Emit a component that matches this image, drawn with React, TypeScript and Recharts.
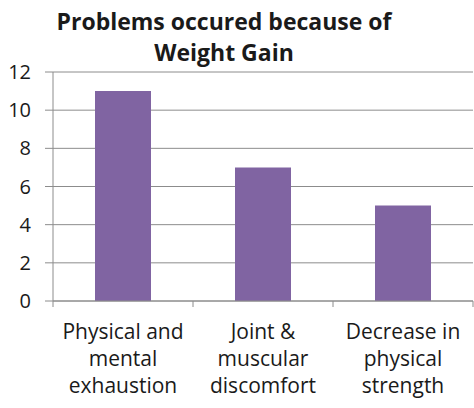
import React from 'react';
import { BarChart, Bar, XAxis, YAxis, CartesianGrid } from 'recharts';

const categories = [
  ['Physical and', 'mental', 'exhaustion'],
  ['Joint &', 'muscular', 'discomfort'],
  ['Decrease in', 'physical', 'strength'],
];
const values = [11, 7, 5];
const yTicks = [0, 2, 4, 6, 8, 10, 12];
const titleLines = ['Problems occured because of', 'Weight Gain'];

const data = categories.map((c, i) => ({ name: c.join('\n'), value: values[i] }));

const FONT = '"Open Sans", sans-serif';

const XTick = (props: any) => {
  const { x, y, payload, index } = props;
  const off = payload.offset ?? 70;
  const lines = String(payload.value).split('\n');
  return (
    <g>
      <line x1={x - off} x2={x - off} y1={y - 8} y2={y - 2} stroke="#8c8c8c" />
      {index === categories.length - 1 && (
        <line x1={x + off} x2={x + off} y1={y - 8} y2={y - 2} stroke="#8c8c8c" />
      )}
      {lines.map((l, i) => (
        <text key={i} x={x} y={y + 30 + i * 27} textAnchor="middle" fontSize={21} fill="#1a1a1a" fontFamily={FONT}>
          {l}
        </text>
      ))}
    </g>
  );
};

export default function App() {
  return (
    <div style={{ position: 'absolute', left: 0, top: 0, width: 474, height: 408, background: '#fff' }}>
      <div
        style={{
          position: 'absolute',
          left: 0,
          top: 6,
          width: 448,
          textAlign: 'center',
          fontFamily: FONT,
          fontWeight: 700,
          fontSize: 23,
          lineHeight: '31px',
          color: '#1a1a1a',
        }}
      >
        {titleLines.map((t, i) => (
          <div key={i}>{t}</div>
        ))}
      </div>
      <BarChart width={474} height={408} data={data} margin={{ top: 72, right: 1, bottom: 0, left: 0 }} barCategoryGap="30%">
        <CartesianGrid vertical={false} stroke="#8c8c8c" />
        <XAxis dataKey="name" axisLine={{ stroke: '#8c8c8c' }} tickLine={false} tick={<XTick />} interval={0} height={107} />
        <YAxis
          domain={[0, 12]}
          ticks={yTicks}
          interval={0}
          width={53}
          axisLine={{ stroke: '#8c8c8c' }}
          tickLine={{ stroke: '#8c8c8c' }}
          tickSize={8}
          tickMargin={14}
          tick={{ fontSize: 20, fill: '#1a1a1a', fontFamily: FONT }}
        />
        <Bar dataKey="value" fill="#8064a2" isAnimationActive={false} />
      </BarChart>
    </div>
  );
}
